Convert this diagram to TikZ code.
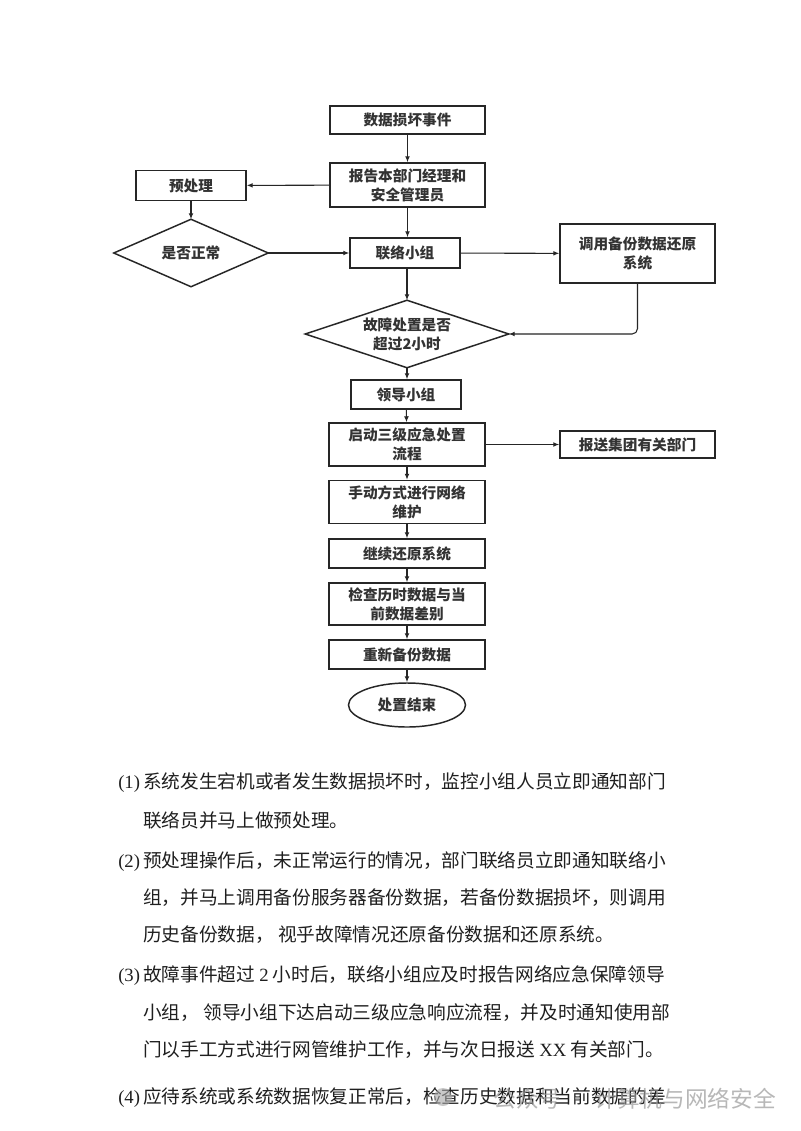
\documentclass[tikz,border=0pt]{standalone}
\usepackage{fontspec}
\setmainfont{Liberation Serif}
\newfontfamily\cjk{Noto Sans CJK SC}
\usetikzlibrary{shapes.geometric,arrows.meta}
\begin{document}
\begin{tikzpicture}[x=0.75pt,y=-0.75pt,
  box/.style={draw=black!85,line width=1.1pt,rectangle,inner sep=0pt,align=center,
    font=\cjk\bfseries\fontsize{11}{14.25}\selectfont,text=black!80},
  dia/.style={box,draw=none},
  oval/.style={box,ellipse},
  diaedge/.style={draw=black!85,line width=1.1pt,line join=miter},
  conn/.style={line width=0.8pt,draw=black!85,-{Latex[length=4.5pt,width=3.6pt]}},
  para/.style={anchor=west,inner sep=0pt,font=\fontsize{14}{16}\selectfont,text=black!88},
]
\fill[white] (0,0) rectangle (800,1131);
\useasboundingbox (0,0) rectangle (800,1131);

% flowchart nodes
\node[box,minimum width=116.25pt,minimum height=21pt] (ev) at (407.5,120) {数据损坏事件};
\node[box,minimum width=116.25pt,minimum height=33pt] (rep) at (407.5,185) {报告本部门经理和\\安全管理员};
\node[box,minimum width=82.5pt,minimum height=22.5pt] (pre) at (191,185.5) {预处理};
\node[dia,minimum width=114.75pt,minimum height=49.5pt] (ok) at (191,253) {是否正常};
\node[box,minimum width=82.5pt,minimum height=22.5pt] (grp) at (405,253) {联络小组};
\node[box,minimum width=116.25pt,minimum height=44.25pt] (rest) at (637.5,253.5) {调用备份数据还原\\系统};
\node[dia,minimum width=151.5pt,minimum height=49.5pt] (two) at (407,334) {故障处置是否\\超过2小时};
\node[box,minimum width=82.5pt,minimum height=21.75pt] (lead) at (406,394.5) {领导小组};
\node[box,minimum width=117pt,minimum height=32.25pt] (start) at (407,444.5) {启动三级应急处置\\流程};
\node[box,minimum width=116.25pt,minimum height=20.25pt] (send) at (637.5,444.5) {报送集团有关部门};
\node[box,minimum width=117pt,minimum height=32.25pt] (man) at (407,502) {手动方式进行网络\\维护};
\node[box,minimum width=117pt,minimum height=21.75pt] (cont) at (407,553.5) {继续还原系统};
\node[box,minimum width=117pt,minimum height=31.5pt] (chk) at (407,604) {检查历时数据与当\\前数据差别};
\node[box,minimum width=117pt,minimum height=21.75pt] (bak) at (407,654.5) {重新备份数据};
\node[oval,minimum width=87.75pt,minimum height=33pt] (end) at (407,705) {处置结束};

% diamond outlines
\draw[diaedge] (ok.north) -- (ok.east) -- (ok.south) -- (ok.west) -- cycle;
\draw[diaedge] (two.north) -- (two.east) -- (two.south) -- (two.west) -- cycle;

% connectors
\draw[conn] (ev) -- (rep);
\draw[conn] (rep) -- (pre);
\draw[conn] (pre.south) -- (ok.north);
\draw[conn] (ok.east) -- (grp.west);
\draw[conn] (rep.south) -- (rep.south |- grp.north);
\draw[conn] (grp) -- (rest);
\draw[conn] (grp.south -| two.north) -- (two.north);
\draw[conn,rounded corners=4pt] (rest.south) |- (two.east);
\draw[conn] (two.south) -- (two.south |- lead.north);
\draw[conn] (lead) -- (start);
\draw[conn] (start) -- (send);
\draw[conn] (start) -- (man);
\draw[conn] (man) -- (cont);
\draw[conn] (cont) -- (chk);
\draw[conn] (chk) -- (bak);
\draw[conn] (bak) -- (end);

% paragraphs
\node[para] (p1a) at (118,783) {(1)\,\cjk 系统发生宕机或者发生数据损坏时，监控小组人员立即通知部门};
\node[para] (p1b) at (143,820) {\cjk 联络员并马上做预处理。};
\node[para] (p2a) at (118,862) {(2)\,\cjk 预处理操作后，未正常运行的情况，部门联络员立即通知联络小};
\node[para] (p2b) at (143,898) {\cjk 组，并马上调用备份服务器备份数据，若备份数据损坏，则调用};
\node[para] (p2c) at (143,935) {\cjk 历史备份数据， 视乎故障情况还原备份数据和还原系统。};
\node[para] (p3a) at (118,976) {(3)\,\cjk 故障事件超过 {\rmfamily 2} 小时后，联络小组应及时报告网络应急保障领导};
\node[para] (p3b) at (143,1013) {\cjk 小组， 领导小组下达启动三级应急响应流程，并及时通知使用部};
\node[para] (p3c) at (143,1050) {\cjk 门以手工方式进行网管维护工作，并与次日报送 {\rmfamily XX} 有关部门。};
\node[para] (p4a) at (118,1098) {(4)\,\cjk 应待系统或系统数据恢复正常后，检查历史数据和当前数据的差};

% watermark
\fill[black!35,opacity=0.6] (443,1097) circle (9);
\node[anchor=east,inner sep=0pt,font=\cjk\fontsize{17}{19}\selectfont,text=black!40,opacity=0.7] (wm) at (776,1099) {公众号 · 计算机与网络安全};
\end{tikzpicture}
\end{document}
